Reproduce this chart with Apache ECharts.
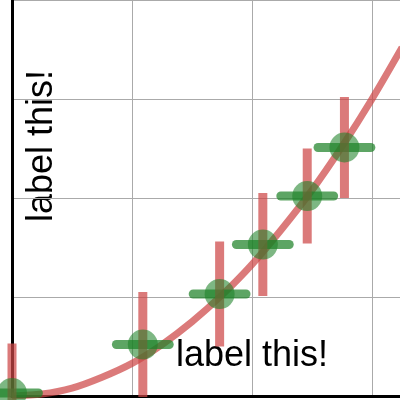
<!DOCTYPE html>
<html><head><meta charset="utf-8">
<script src="https://cdn.jsdelivr.net/npm/echarts@6/dist/echarts.min.js"></script>
<style>html,body{margin:0;padding:0;background:#fff}#c{width:400px;height:400px}</style>
</head><body><div id="c"></div>
<script>
const pointX = [0, 1.09, 1.73, 2.09, 2.46, 2.77];
const pointY = [0.03, 0.52, 1.03, 1.53, 2.02, 2.51];
const xErr = [0.22, 0.22, 0.22, 0.22, 0.22, 0.22];
const yErr = [0.5, 0.53, 0.53, 0.52, 0.48, 0.51];
const curveX = [0, 0.25, 0.5, 0.75, 1, 1.25, 1.5, 1.75, 2, 2.25, 2.5, 2.75, 3, 3.25];
const curveY = [0, 0.02, 0.08, 0.19, 0.33, 0.52, 0.75, 1.02, 1.33, 1.69, 2.08, 2.52, 3.0, 3.52];
const xLabel = 'label this!';
const yLabel = 'label this!';

const chart = echarts.init(document.getElementById('c'));
const red = 'rgba(205,70,70,0.72)', green = 'rgba(30,130,40,0.72)';
const errData = pointX.map((x, i) => [x, pointY[i], xErr[i], yErr[i]]);
chart.setOption({
  animation: false,
  grid: {left: 12, right: 0, top: 0, bottom: 4},
  xAxis: {type: 'value', min: 0, max: 3.233, interval: 1,
    axisLine: {show: true, onZero: false, lineStyle: {color: '#000', width: 3}},
    axisTick: {show: false}, axisLabel: {show: false},
    splitLine: {show: true, lineStyle: {color: '#aaa', width: 1}}},
  yAxis: {type: 'value', min: 0, max: 4, interval: 1,
    axisLine: {show: true, onZero: false, lineStyle: {color: '#000', width: 3}},
    axisTick: {show: false}, axisLabel: {show: false},
    splitLine: {show: true, lineStyle: {color: '#aaa', width: 1}}},
  graphic: [
    {type: 'text', left: 176, top: 338, style: {text: xLabel, font: '36px "Liberation Sans"', fill: '#000'}},
    {type: 'text', x: 24, y: 222, rotation: Math.PI / 2, style: {text: yLabel, font: '36px "Liberation Sans"', fill: '#000'}}
  ],
  series: [
    {type: 'line', data: curveX.map((x, i) => [x, curveY[i]]), smooth: 0.3, showSymbol: false,
      lineStyle: {color: red, width: 7}, z: 2},
    {type: 'custom', data: errData, z: 3, clip: false,
      renderItem: (params, api) => {
        const x = api.value(0), y = api.value(1), dx = api.value(2), dy = api.value(3);
        const a = api.coord([x - dx, y]), b = api.coord([x + dx, y]);
        const c = api.coord([x, y - dy]), d = api.coord([x, y + dy]);
        return {type: 'group', children: [
          {type: 'line', shape: {x1: a[0], y1: a[1], x2: b[0], y2: b[1]}, style: {stroke: green, lineWidth: 9, lineCap: 'round'}},
          {type: 'line', shape: {x1: c[0], y1: c[1], x2: d[0], y2: d[1]}, style: {stroke: red, lineWidth: 9}}
        ]};
      }},
    {type: 'scatter', data: pointX.map((x, i) => [x, pointY[i]]), symbolSize: 30, clip: false,
      itemStyle: {color: green}, z: 4}
  ]
});
</script></body></html>
